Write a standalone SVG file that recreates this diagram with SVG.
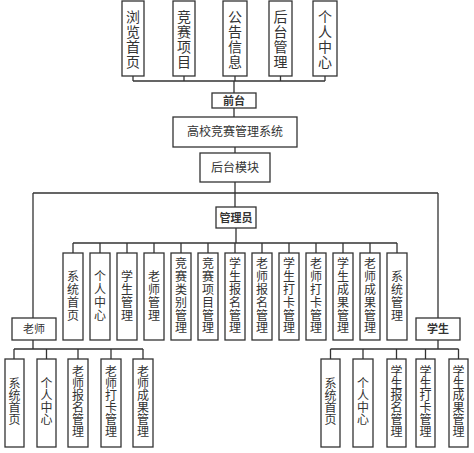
<svg xmlns="http://www.w3.org/2000/svg" width="474" height="453" viewBox="0 0 474 453">
<style>
.b{fill:#fff;stroke:#333;stroke-width:1.3}
.c{fill:none;stroke:#333;stroke-width:1.3}
text{font-family:"Noto Sans CJK SC","Noto Sans",sans-serif;fill:#333;text-anchor:middle}
.t14{font-size:14px}
.t12{font-size:12px}
.m{font-size:12px}
.h{font-size:11px}
.hb{font-size:11px;font-weight:bold}
</style>
<rect width="474" height="453" fill="#fff"/>
<g id="connectors">
<path class="c" d="M133 76V81M184 76V81M235 76V81M280.5 76V81M325 76V81M133 81H325M234 81V93M234 108V117M235 147V153M235 182V207M33 193H438M33 193V318M438 193V318M236 228V243M73 243H397"/>
<path class="c" d="M73 243V253M100 243V253M127 243V253M154 243V253M181 243V253M208 243V253M235 243V253M262 243V253M289 243V253M316 243V253M343 243V253M370 243V253M397 243V253"/>
<path class="c" d="M33 340V349M14 349H143M14 349V359M46.5 349V359M78 349V359M111 349V359M143 349V359"/>
<path class="c" d="M438 340V349M330.5 349H458.5M330.5 349V359M363 349V359M396.5 349V359M425.5 349V359M458.5 349V359"/>
</g>
<g id="top-1"><rect class="b" x="122" y="1" width="22" height="75"/><text class="t14"><tspan x="133" y="22">浏</tspan><tspan x="133" y="37">览</tspan><tspan x="133" y="52">首</tspan><tspan x="133" y="67">页</tspan></text></g>
<g id="top-2"><rect class="b" x="173" y="1" width="22" height="75"/><text class="t14"><tspan x="184" y="22">竞</tspan><tspan x="184" y="37">赛</tspan><tspan x="184" y="52">项</tspan><tspan x="184" y="67">目</tspan></text></g>
<g id="top-3"><rect class="b" x="223" y="1" width="24" height="75"/><text class="t14"><tspan x="235" y="22">公</tspan><tspan x="235" y="37">告</tspan><tspan x="235" y="52">信</tspan><tspan x="235" y="67">息</tspan></text></g>
<g id="top-4"><rect class="b" x="269" y="1" width="23" height="75"/><text class="t14"><tspan x="280.5" y="22">后</tspan><tspan x="280.5" y="37">台</tspan><tspan x="280.5" y="52">管</tspan><tspan x="280.5" y="67">理</tspan></text></g>
<g id="top-5"><rect class="b" x="313" y="1" width="24" height="75"/><text class="t14"><tspan x="325" y="22">个</tspan><tspan x="325" y="37">人</tspan><tspan x="325" y="52">中</tspan><tspan x="325" y="67">心</tspan></text></g>
<g id="qiantai"><rect class="b" x="212" y="93" width="44" height="15"/><text class="hb" x="234" y="104.5">前台</text></g>
<g id="system"><rect class="b" x="173" y="117" width="124" height="30"/><text class="m" x="235" y="136">高校竞赛管理系统</text></g>
<g id="houtai"><rect class="b" x="200" y="153" width="70" height="29"/><text class="m" x="235" y="171.5">后台模块</text></g>
<g id="admin"><rect class="b" x="216" y="207" width="40" height="21"/><text class="hb" x="236" y="221.5">管理员</text></g>
<g id="teacher"><rect class="b" x="12" y="318" width="44" height="22"/><text class="h" x="34" y="333">老师</text></g>
<g id="student"><rect class="b" x="416" y="318" width="44" height="22"/><text class="hb" x="438" y="333">学生</text></g>
<g id="m1"><rect class="b" x="63" y="253" width="20" height="87"/><text class="t12"><tspan x="73" y="281.1">系</tspan><tspan x="73" y="293.9">统</tspan><tspan x="73" y="306.7">首</tspan><tspan x="73" y="319.5">页</tspan></text></g>
<g id="m2"><rect class="b" x="90" y="253" width="20" height="87"/><text class="t12"><tspan x="100" y="281.1">个</tspan><tspan x="100" y="293.9">人</tspan><tspan x="100" y="306.7">中</tspan><tspan x="100" y="319.5">心</tspan></text></g>
<g id="m3"><rect class="b" x="117" y="253" width="20" height="87"/><text class="t12"><tspan x="127" y="281.1">学</tspan><tspan x="127" y="293.9">生</tspan><tspan x="127" y="306.7">管</tspan><tspan x="127" y="319.5">理</tspan></text></g>
<g id="m4"><rect class="b" x="144" y="253" width="20" height="87"/><text class="t12"><tspan x="154" y="281.1">老</tspan><tspan x="154" y="293.9">师</tspan><tspan x="154" y="306.7">管</tspan><tspan x="154" y="319.5">理</tspan></text></g>
<g id="m5"><rect class="b" x="171" y="253" width="20" height="87"/><text class="t12"><tspan x="181" y="268.3">竞</tspan><tspan x="181" y="281.1">赛</tspan><tspan x="181" y="293.9">类</tspan><tspan x="181" y="306.7">别</tspan><tspan x="181" y="319.5">管</tspan><tspan x="181" y="332.3">理</tspan></text></g>
<g id="m6"><rect class="b" x="198" y="253" width="20" height="87"/><text class="t12"><tspan x="208" y="268.3">竞</tspan><tspan x="208" y="281.1">赛</tspan><tspan x="208" y="293.9">项</tspan><tspan x="208" y="306.7">目</tspan><tspan x="208" y="319.5">管</tspan><tspan x="208" y="332.3">理</tspan></text></g>
<g id="m7"><rect class="b" x="225" y="253" width="20" height="87"/><text class="t12"><tspan x="235" y="268.3">学</tspan><tspan x="235" y="281.1">生</tspan><tspan x="235" y="293.9">报</tspan><tspan x="235" y="306.7">名</tspan><tspan x="235" y="319.5">管</tspan><tspan x="235" y="332.3">理</tspan></text></g>
<g id="m8"><rect class="b" x="252" y="253" width="20" height="87"/><text class="t12"><tspan x="262" y="268.3">老</tspan><tspan x="262" y="281.1">师</tspan><tspan x="262" y="293.9">报</tspan><tspan x="262" y="306.7">名</tspan><tspan x="262" y="319.5">管</tspan><tspan x="262" y="332.3">理</tspan></text></g>
<g id="m9"><rect class="b" x="279" y="253" width="20" height="87"/><text class="t12"><tspan x="289" y="268.3">学</tspan><tspan x="289" y="281.1">生</tspan><tspan x="289" y="293.9">打</tspan><tspan x="289" y="306.7">卡</tspan><tspan x="289" y="319.5">管</tspan><tspan x="289" y="332.3">理</tspan></text></g>
<g id="m10"><rect class="b" x="306" y="253" width="20" height="87"/><text class="t12"><tspan x="316" y="268.3">老</tspan><tspan x="316" y="281.1">师</tspan><tspan x="316" y="293.9">打</tspan><tspan x="316" y="306.7">卡</tspan><tspan x="316" y="319.5">管</tspan><tspan x="316" y="332.3">理</tspan></text></g>
<g id="m11"><rect class="b" x="333" y="253" width="20" height="87"/><text class="t12"><tspan x="343" y="268.3">学</tspan><tspan x="343" y="281.1">生</tspan><tspan x="343" y="293.9">成</tspan><tspan x="343" y="306.7">果</tspan><tspan x="343" y="319.5">管</tspan><tspan x="343" y="332.3">理</tspan></text></g>
<g id="m12"><rect class="b" x="360" y="253" width="20" height="87"/><text class="t12"><tspan x="370" y="268.3">老</tspan><tspan x="370" y="281.1">师</tspan><tspan x="370" y="293.9">成</tspan><tspan x="370" y="306.7">果</tspan><tspan x="370" y="319.5">管</tspan><tspan x="370" y="332.3">理</tspan></text></g>
<g id="m13"><rect class="b" x="387" y="253" width="20" height="87"/><text class="t12"><tspan x="397" y="281.1">系</tspan><tspan x="397" y="293.9">统</tspan><tspan x="397" y="306.7">管</tspan><tspan x="397" y="319.5">理</tspan></text></g>
<g id="t1"><rect class="b" x="5" y="359" width="19" height="88"/><text class="t12"><tspan x="14.5" y="388.3">系</tspan><tspan x="14.5" y="400.3">统</tspan><tspan x="14.5" y="412.3">首</tspan><tspan x="14.5" y="424.3">页</tspan></text></g>
<g id="t2"><rect class="b" x="37" y="359" width="19" height="88"/><text class="t12"><tspan x="46.5" y="388.3">个</tspan><tspan x="46.5" y="400.3">人</tspan><tspan x="46.5" y="412.3">中</tspan><tspan x="46.5" y="424.3">心</tspan></text></g>
<g id="t3"><rect class="b" x="68" y="359" width="20" height="88"/><text class="t12"><tspan x="78" y="376.3">老</tspan><tspan x="78" y="388.3">师</tspan><tspan x="78" y="400.3">报</tspan><tspan x="78" y="412.3">名</tspan><tspan x="78" y="424.3">管</tspan><tspan x="78" y="436.3">理</tspan></text></g>
<g id="t4"><rect class="b" x="101" y="359" width="20" height="88"/><text class="t12"><tspan x="111" y="376.3">老</tspan><tspan x="111" y="388.3">师</tspan><tspan x="111" y="400.3">打</tspan><tspan x="111" y="412.3">卡</tspan><tspan x="111" y="424.3">管</tspan><tspan x="111" y="436.3">理</tspan></text></g>
<g id="t5"><rect class="b" x="133" y="359" width="20" height="88"/><text class="t12"><tspan x="143" y="376.3">老</tspan><tspan x="143" y="388.3">师</tspan><tspan x="143" y="400.3">成</tspan><tspan x="143" y="412.3">果</tspan><tspan x="143" y="424.3">管</tspan><tspan x="143" y="436.3">理</tspan></text></g>
<g id="s1"><rect class="b" x="321" y="359" width="19" height="88"/><text class="t12"><tspan x="330.5" y="388.3">系</tspan><tspan x="330.5" y="400.3">统</tspan><tspan x="330.5" y="412.3">首</tspan><tspan x="330.5" y="424.3">页</tspan></text></g>
<g id="s2"><rect class="b" x="353" y="359" width="20" height="88"/><text class="t12"><tspan x="363" y="388.3">个</tspan><tspan x="363" y="400.3">人</tspan><tspan x="363" y="412.3">中</tspan><tspan x="363" y="424.3">心</tspan></text></g>
<g id="s3"><rect class="b" x="387" y="359" width="19" height="88"/><text class="t12"><tspan x="396.5" y="376.3">学</tspan><tspan x="396.5" y="388.3">生</tspan><tspan x="396.5" y="400.3">报</tspan><tspan x="396.5" y="412.3">名</tspan><tspan x="396.5" y="424.3">管</tspan><tspan x="396.5" y="436.3">理</tspan></text></g>
<g id="s4"><rect class="b" x="416" y="359" width="19" height="88"/><text class="t12"><tspan x="425.5" y="376.3">学</tspan><tspan x="425.5" y="388.3">生</tspan><tspan x="425.5" y="400.3">打</tspan><tspan x="425.5" y="412.3">卡</tspan><tspan x="425.5" y="424.3">管</tspan><tspan x="425.5" y="436.3">理</tspan></text></g>
<g id="s5"><rect class="b" x="449" y="359" width="19" height="88"/><text class="t12"><tspan x="458.5" y="376.3">学</tspan><tspan x="458.5" y="388.3">生</tspan><tspan x="458.5" y="400.3">成</tspan><tspan x="458.5" y="412.3">果</tspan><tspan x="458.5" y="424.3">管</tspan><tspan x="458.5" y="436.3">理</tspan></text></g>
</svg>
